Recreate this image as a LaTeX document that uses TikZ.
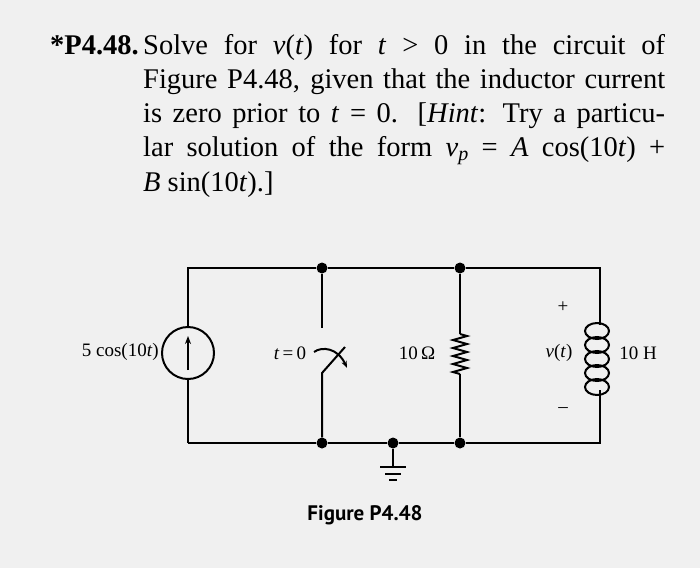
\documentclass[tikz,border=0pt]{standalone}
\usepackage{fontspec}
\setmainfont{Liberation Serif}
\newfontfamily\capfont{PT Sans}
\usetikzlibrary{decorations.pathmorphing,arrows.meta}
\begin{document}
\begin{tikzpicture}[x=1pt,y=-1pt,
  wire/.style={line width=2pt},
  dot/.style={circle,fill,inner sep=0pt,minimum size=11pt},
  txt/.style={anchor=base west,inner sep=0pt,font=\fontsize{28.5}{30}\selectfont},
  lbl/.style={inner sep=1pt,font=\fontsize{19}{22}\selectfont}]
\fill[gray!12] (0,0) rectangle (700,568);
\useasboundingbox (0,0) rectangle (700,568);
% text
\node[anchor=base east,inner sep=0pt,font=\fontsize{28.5}{30}\selectfont\bfseries] (num) at (139,54) {*P4.48.};
\node[txt] (l1) at (143,54) {\makebox[522pt][s]{Solve for \textit{v}(\textit{t}) for \textit{t} > 0 in the circuit of}};
\node[txt] (l2) at (143,88) {\makebox[522pt][s]{Figure P4.48, given that the inductor current}};
\node[txt] (l3) at (143,122) {\makebox[522pt][s]{is zero prior to \textit{t} = 0. [\textit{Hint}: Try a particu-}};
\node[txt] (l4) at (143,156) {\makebox[522pt][s]{lar solution of the form \textit{v\raisebox{-4pt}{\fontsize{20}{20}\selectfont p}} = \textit{A} cos(10\textit{t}) +}};
\node[txt] (l5) at (143,191) {\textit{B} sin(10\textit{t}).]};
% circuit coordinates
\coordinate (tl) at (188,268); \coordinate (bl) at (188,443);
\coordinate (tr) at (600,268); \coordinate (br) at (600,443);
\node[dot] (n1) at (322,268) {}; \node[dot] (n2) at (460,268) {};
\node[dot] (n3) at (322,443) {}; \node[dot] (n4) at (460,443) {};
\node[dot] (n5) at (393,443) {};
\node[circle,draw,line width=2pt,minimum size=52pt,inner sep=0pt] (src) at (188,353) {};
\draw[wire] (bl) -- (src.south) (src.north) -- (tl) -- (n1) -- (n2) -- (tr) -- (600,325);
\draw[wire] (600,390) -- (br) -- (n4) -- (n5) -- (n3) -- (bl);
\draw[wire,-{Stealth[length=8pt]}] (188,370) -- (188,336);
% switch
\draw[wire] (n1) -- (322,328);
\draw[wire] (n3) -- (322,373) -- (345,347);
\draw[wire,-{Stealth[length=7pt]}] (314,352) .. controls (322,346) and (338,348) .. (347,368);
% resistor
\draw[wire] (n2) -- (460,334);
\draw[wire,decorate,decoration={zigzag,segment length=8pt,amplitude=7pt}] (460,334) -- (460,374);
\draw[wire] (460,374) -- (n4);
% inductor
\foreach \k in {0,...,4}{\draw[wire] (597,331+\k*14) ellipse [x radius=12, y radius=8];}
% ground
\draw[wire] (n5) -- (393,467);
\draw[wire] (380,467) -- (406,467) (385,474) -- (401,474) (389,480) -- (397,480);
% labels
\node[lbl,anchor=east] (ls) at (160,352) {5 cos(10\textit{t})};
\node[lbl] (lt) at (290,353) {\textit{t}\,=\,0};
\node[lbl] (lr) at (417,353) {10\,Ω};
\node[lbl] (lv) at (559,353) {\textit{v}(\textit{t})};
\node[lbl] (lh) at (638,353) {10 H};
\node[lbl] (lp) at (563,307) {+};
\node[lbl] (lm) at (563,410) {–};
\node[inner sep=0pt,font=\capfont\bfseries\fontsize{21}{24}\selectfont] (cap) at (365,515) {Figure P4.48};
\end{tikzpicture}
\end{document}
